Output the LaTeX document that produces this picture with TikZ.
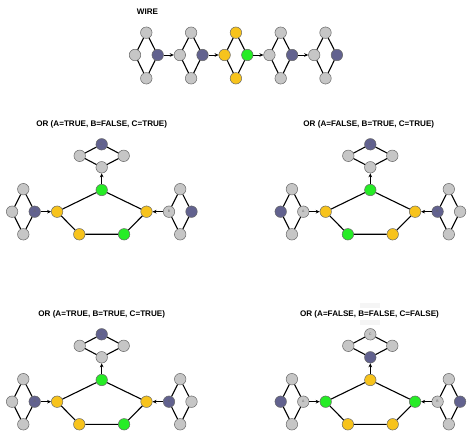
\documentclass[tikz,border=0pt]{standalone}
\usepackage{fontspec}
\setsansfont{Liberation Sans}
\usetikzlibrary{arrows.meta}
\definecolor{offgray}{HTML}{C6C6C6}
\definecolor{onblue}{HTML}{62628F}
\definecolor{ygold}{HTML}{F7C31C}
\definecolor{ggreen}{HTML}{26EC26}
\tikzset{
  v/.style={circle,draw=black!60,line width=0.5pt,minimum size=11.5pt,inner sep=0pt,
    font=\sffamily\fontsize{3.4}{3.4}\selectfont,text=black!60},
  off/.style={v,fill=offgray},
  on/.style={v,fill=onblue},
  yel/.style={v,fill=ygold},
  grn/.style={v,fill=ggreen},
  edge/.style={line width=1.1pt},
  push/.style={-{Stealth[length=4pt,width=3.6pt]},line width=0.9pt},
  title/.style={font=\sffamily\bfseries\fontsize{8.1}{9}\selectfont}
}
\begin{document}
\begin{tikzpicture}[x=1pt,y=-1pt]
  \useasboundingbox (0,0) rectangle (474,438);

  % wire
  \node (wire) at (136.7,11.7) [title,anchor=west,inner sep=0pt] {WIRE};
  \node (w1l) at (135,55) [off] {};
  \node (w1t) at (146.3,32.7) [off] {};
  \node (w1b) at (146.3,78.3) [off] {};
  \node (w1r) at (157.7,55) [on] {};
  \node (w2l) at (179.8,55) [off] {};
  \node (w2t) at (191.1,32.7) [off] {};
  \node (w2b) at (191.1,78.3) [off] {};
  \node (w2r) at (202.5,55) [on] {};
  \node (w3l) at (224.6,55) [yel] {};
  \node (w3t) at (235.9,32.7) [yel] {};
  \node (w3b) at (235.9,78.3) [yel] {};
  \node (w3r) at (247.3,55) [grn] {};
  \node (w4l) at (269.4,55) [off] {};
  \node (w4t) at (280.7,32.7) [off] {};
  \node (w4b) at (280.7,78.3) [off] {};
  \node (w4r) at (292.1,55) [on] {};
  \node (w5l) at (314.2,55) [off] {};
  \node (w5t) at (325.5,32.7) [off] {};
  \node (w5b) at (325.5,78.3) [off] {};
  \node (w5r) at (336.9,55) [on] {};
  \draw[edge] (w1l) -- (w1t) -- (w1r) -- (w1b) -- (w1l);
  \draw[edge] (w2l) -- (w2t) -- (w2r) -- (w2b) -- (w2l);
  \draw[edge] (w3l) -- (w3t) -- (w3r) -- (w3b) -- (w3l);
  \draw[edge] (w4l) -- (w4t) -- (w4r) -- (w4b) -- (w4l);
  \draw[edge] (w5l) -- (w5t) -- (w5r) -- (w5b) -- (w5l);
  \draw[push] (w1r) -- (w2l);
  \draw[push] (w2r) -- (w3l);
  \draw[push] (w3r) -- (w4l);
  \draw[push] (w4r) -- (w5l);

  % OR, A true, B false
  \begin{scope}[shift={(101.7,190)}]
    \node (t) at (0,-66) [title] {OR (A=TRUE, B=FALSE, C=TRUE)};
    \node (ct) at (0,-45.7) [on] {C};
    \node (cl) at (-22,-34.2) [off] {};
    \node (cr) at (22,-34.2) [off] {};
    \node (cb) at (0,-22.7) [off] {};
    \node (pt) at (0,0) [grn] {};
    \node (pl) at (-44.6,21.7) [yel] {};
    \node (pr) at (44.8,21.7) [yel] {};
    \node (pbl) at (-22.4,44.3) [yel] {};
    \node (pbr) at (22.4,44.3) [grn] {};
    \node (at) at (-78.4,-0.8) [off] {};
    \node (al) at (-89.6,21.7) [off] {};
    \node (a) at (-67,21.7) [on] {A};
    \node (ab) at (-78.4,44.3) [off] {};
    \node (b) at (67.3,21.7) [off] {B};
    \node (bt) at (78.5,-0.8) [off] {};
    \node (br) at (89.8,21.7) [on] {};
    \node (bb) at (78.5,44.3) [off] {};
    \draw[edge] (ct) -- (cr) -- (cb) -- (cl) -- (ct);
    \draw[edge] (pt) -- (pr) -- (pbr) -- (pbl) -- (pl) -- (pt);
    \draw[edge] (at) -- (a) -- (ab) -- (al) -- (at);
    \draw[edge] (bt) -- (br) -- (bb) -- (b) -- (bt);
    \draw[push] (pt) -- (cb);
    \draw[push] (a) -- (pl);
    \draw[push] (b) -- (pr);
  \end{scope}

  % OR, A false, B true
  \begin{scope}[shift={(370.3,190)}]
    \node (t) at (-1.5,-66) [title] {OR (A=FALSE, B=TRUE, C=TRUE)};
    \node (ct) at (0,-45.7) [on] {C};
    \node (cl) at (-22,-34.2) [off] {};
    \node (cr) at (22,-34.2) [off] {};
    \node (cb) at (0,-22.7) [off] {};
    \node (pt) at (0,0) [grn] {};
    \node (pl) at (-44.6,21.7) [yel] {};
    \node (pr) at (44.8,21.7) [yel] {};
    \node (pbl) at (-22.4,44.3) [grn] {};
    \node (pbr) at (22.4,44.3) [yel] {};
    \node (at) at (-78.4,-0.8) [off] {};
    \node (al) at (-89.6,21.7) [on] {};
    \node (a) at (-67,21.7) [off] {A};
    \node (ab) at (-78.4,44.3) [off] {};
    \node (b) at (67.3,21.7) [on] {B};
    \node (bt) at (78.5,-0.8) [off] {};
    \node (br) at (89.8,21.7) [off] {};
    \node (bb) at (78.5,44.3) [off] {};
    \draw[edge] (ct) -- (cr) -- (cb) -- (cl) -- (ct);
    \draw[edge] (pt) -- (pr) -- (pbr) -- (pbl) -- (pl) -- (pt);
    \draw[edge] (at) -- (a) -- (ab) -- (al) -- (at);
    \draw[edge] (bt) -- (br) -- (bb) -- (b) -- (bt);
    \draw[push] (pt) -- (cb);
    \draw[push] (a) -- (pl);
    \draw[push] (b) -- (pr);
  \end{scope}

  % OR, A true, B true
  \begin{scope}[shift={(101.7,380)}]
    \node (t) at (0,-66) [title] {OR (A=TRUE, B=TRUE, C=TRUE)};
    \node (ct) at (0,-45.7) [on] {C};
    \node (cl) at (-22,-34.2) [off] {};
    \node (cr) at (22,-34.2) [off] {};
    \node (cb) at (0,-22.7) [off] {};
    \node (pt) at (0,0) [grn] {};
    \node (pl) at (-44.6,21.7) [yel] {};
    \node (pr) at (44.8,21.7) [yel] {};
    \node (pbl) at (-22.4,44.3) [yel] {};
    \node (pbr) at (22.4,44.3) [grn] {};
    \node (at) at (-78.4,-0.8) [off] {};
    \node (al) at (-89.6,21.7) [off] {};
    \node (a) at (-67,21.7) [on] {A};
    \node (ab) at (-78.4,44.3) [off] {};
    \node (b) at (67.3,21.7) [on] {B};
    \node (bt) at (78.5,-0.8) [off] {};
    \node (br) at (89.8,21.7) [off] {};
    \node (bb) at (78.5,44.3) [off] {};
    \draw[edge] (ct) -- (cr) -- (cb) -- (cl) -- (ct);
    \draw[edge] (pt) -- (pr) -- (pbr) -- (pbl) -- (pl) -- (pt);
    \draw[edge] (at) -- (a) -- (ab) -- (al) -- (at);
    \draw[edge] (bt) -- (br) -- (bb) -- (b) -- (bt);
    \draw[push] (pt) -- (cb);
    \draw[push] (a) -- (pl);
    \draw[push] (b) -- (pr);
  \end{scope}

  % OR, A false, B false
  \begin{scope}[shift={(370.3,380)}]
    \fill[black!4] (-10.3,-77) rectangle (10,-72);
    \fill[black!4] (-10.3,-60) rectangle (10,-55);
    \node (t) at (-0.8,-66) [title] {OR (A=FALSE, B=FALSE, C=FALSE)};
    \node (ct) at (0,-45.7) [off] {C};
    \node (cl) at (-22,-34.2) [off] {};
    \node (cr) at (22,-34.2) [off] {};
    \node (cb) at (0,-22.7) [on] {};
    \node (pt) at (0,0) [yel] {};
    \node (pl) at (-44.6,21.7) [grn] {};
    \node (pr) at (44.8,21.7) [grn] {};
    \node (pbl) at (-22.4,44.3) [yel] {};
    \node (pbr) at (22.4,44.3) [yel] {};
    \node (at) at (-78.4,-0.8) [off] {};
    \node (al) at (-89.6,21.7) [on] {};
    \node (a) at (-67,21.7) [off] {A};
    \node (ab) at (-78.4,44.3) [off] {};
    \node (b) at (67.3,21.7) [off] {B};
    \node (bt) at (78.5,-0.8) [off] {};
    \node (br) at (89.8,21.7) [on] {};
    \node (bb) at (78.5,44.3) [off] {};
    \draw[edge] (ct) -- (cr) -- (cb) -- (cl) -- (ct);
    \draw[edge] (pt) -- (pr) -- (pbr) -- (pbl) -- (pl) -- (pt);
    \draw[edge] (at) -- (a) -- (ab) -- (al) -- (at);
    \draw[edge] (bt) -- (br) -- (bb) -- (b) -- (bt);
    \draw[push] (pt) -- (cb);
    \draw[push] (a) -- (pl);
    \draw[push] (b) -- (pr);
  \end{scope}
\end{tikzpicture}
\end{document}
